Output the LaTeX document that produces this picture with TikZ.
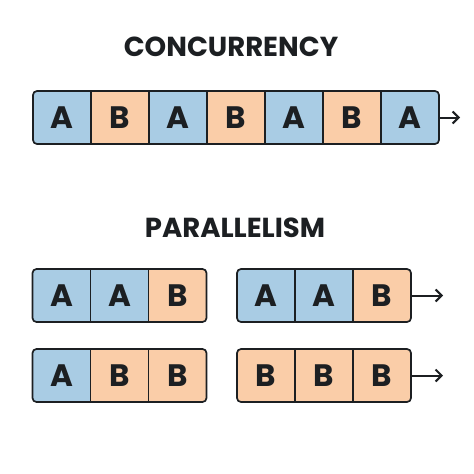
\documentclass[tikz,border=0pt]{standalone}
\usepackage{fontspec}
\setmainfont{Poppins}
\usetikzlibrary{arrows.meta,positioning}
\definecolor{taskA}{HTML}{A9CCE4}
\definecolor{taskB}{HTML}{FACDA8}
\definecolor{ink}{HTML}{1C1F22}
\tikzset{
	cell/.style={draw=ink, line width=1.3pt, minimum width=58pt, minimum height=53pt,
			inner sep=0pt, text=ink, font=\fontsize{31}{31}\selectfont\bfseries},
	frame/.style={draw=ink, line width=1.7pt, rounded corners=4pt},
	timeline/.style={draw=ink, line width=2pt, -{Straight Barb[length=6pt,width=12pt]}},
	heading/.style={text=ink, font=\fontsize{27.5}{27.5}\selectfont\bfseries}
}
% \taskrow{name}{left x}{centre y}{letters}
\newcommand{\taskrow}[4]{
	\begin{scope}
		\foreach \l [count=\i] in {#4} {\global\let\lastcount\i}
		\clip[rounded corners=4pt] (#2,#3-26.5) rectangle ({#2+58*\lastcount},#3+26.5);
		\foreach \l [count=\i] in {#4}
		\node[cell, fill=task\l] (#1\i) at ({#2+58*(\i-0.5)},#3) {\l};
	\end{scope}
	\draw[frame] (#2,#3-26.5) rectangle ({#2+58*\lastcount},#3+26.5);
}
\begin{document}
\begin{tikzpicture}[x=1pt,y=-1pt]
	\useasboundingbox[fill=white] (0,0) rectangle (474,474);

	\node[heading] (conctitle) at (231,47) {CONCURRENCY};
	\taskrow{conc}{33}{117.5}{A,B,A,B,A,B,A}
	\coordinate (concend) at (460,117.5);
	\draw[timeline] (conc7.east) -- (concend);

	\node[heading] (partitle) at (235,227.5) {PARALLELISM};
	\taskrow{pa}{32.5}{295.5}{A,A,B}
	\taskrow{pb}{237}{295.5}{A,A,B}
	\taskrow{pc}{32.5}{375.5}{A,B,B}
	\taskrow{pd}{237}{375.5}{B,B,B}
	\coordinate (pbend) at (443,295.5);
	\coordinate (pdend) at (443,375.5);
	\draw[timeline] (pb3.east) -- (pbend);
	\draw[timeline] (pd3.east) -- (pdend);
\end{tikzpicture}
\end{document}
